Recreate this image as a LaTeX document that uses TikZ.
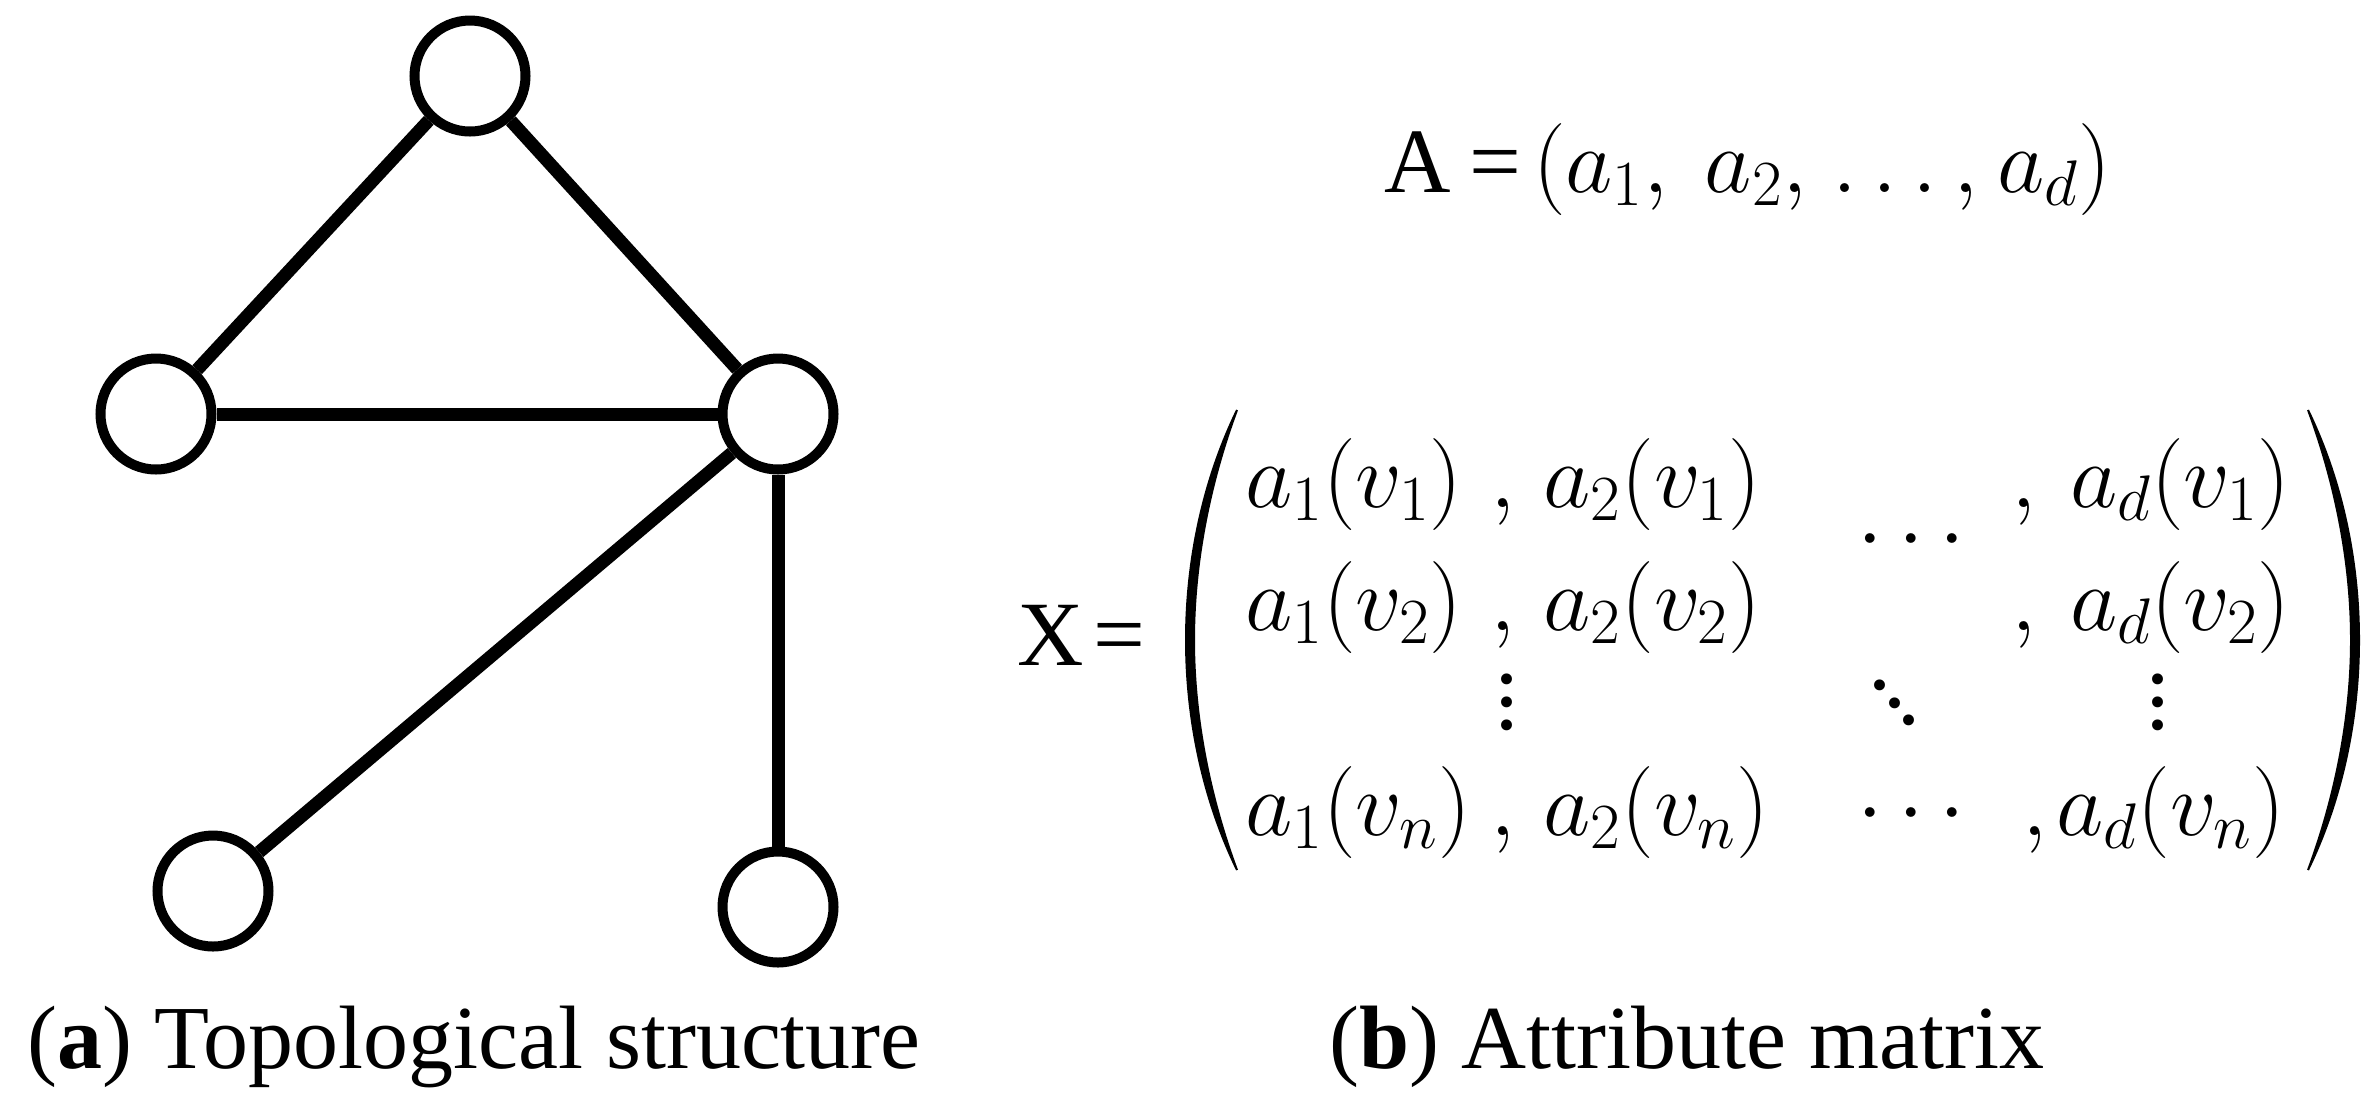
\documentclass[tikz,border=0pt]{standalone}
\usepackage{fix-cm}
\usepackage{fontspec}
\setmainfont{Liberation Serif}
\newcommand{\bigvdots}{\vbox{\baselineskip=0.25em\lineskiplimit=-\maxdimen\hbox{.}\hbox{.}\hbox{.}}}
\newcommand{\bigddots}{\hbox{\raise0.37em\hbox{.}\kern-0.09em\raise0.18em\hbox{.}\kern-0.09em\hbox{.}}}
\begin{document}
\begin{tikzpicture}[x=0.5pt,y=-0.5pt,
  vtx/.style={circle,draw=black,line width=5pt,minimum size=55.5pt,inner sep=0pt,fill=white},
  edg/.style={line width=6.5pt},
  capt/.style={anchor=base west,inner sep=0pt,font=\fontsize{45pt}{54pt}\selectfont},
  mth/.style={anchor=base west,inner sep=0pt,font=\fontsize{46pt}{55pt}\selectfont},
  dotsbox/.style={anchor=base,inner sep=0pt,font=\fontsize{46pt}{55pt}\selectfont},
  paren/.style={fill=black,draw=black,line width=1pt}]
\useasboundingbox (0,0) rectangle (2377,1105);
% graph
\node[vtx] (v1) at (470,76) {};
\node[vtx] (v2) at (156,414) {};
\node[vtx] (v3) at (778,414) {};
\node[vtx] (v4) at (213,891) {};
\node[vtx] (v5) at (778,907) {};
\draw[edg] (v1) -- (v2);
\draw[edg] (v1) -- (v3);
\draw[edg] (v2) -- (v3);
\draw[edg] (v3) -- (v4);
\draw[edg] (v3) -- (v5);
% captions
\node[capt] (capa) at (27,1068) {(\textbf{a}) Topological structure};
\node[capt] (capb) at (1329,1068) {(\textbf{b}) Attribute matrix};
% attribute set
\node[mth] (attr) at (1384,192) {A\hspace{0.2em}=\hspace{0.13em}$(a_1,\hspace{0.23em}a_2,\hspace{0.1em}\ldots,\hspace{0.04em}a_d)$};
% matrix
\node[mth] (xeq) at (1017,665) {X\hspace{0.1em}=};
\path[paren] (1237,410) .. controls (1203,480) and (1186,560) .. (1186,640)
  .. controls (1186,720) and (1203,800) .. (1237,870)
  .. controls (1211,800) and (1194,720) .. (1194,640)
  .. controls (1194,560) and (1211,480) .. (1237,410) -- cycle;
\path[paren] (2308,410) .. controls (2342,480) and (2359,560) .. (2359,640)
  .. controls (2359,720) and (2342,800) .. (2308,870)
  .. controls (2334,800) and (2351,720) .. (2351,640)
  .. controls (2351,560) and (2334,480) .. (2308,410) -- cycle;
\node[mth] (c11) at (1245,507) {$a_1(v_1)$};
\node[mth] (c12) at (1490,507) {$,\hspace{0.14em}a_2(v_1)$};
\node[mth] (c13) at (1857,561) {$\cdots$};
\node[mth] (c14) at (2011,507) {$,\hspace{0.2em}a_d(v_1)$};
\node[mth] (c21) at (1245,630) {$a_1(v_2)$};
\node[mth] (c22) at (1490,630) {$,\hspace{0.14em}a_2(v_2)$};
\node[mth] (c24) at (2011,630) {$,\hspace{0.2em}a_d(v_2)$};
\node[dotsbox] (c31) at (1507,729) {\bigvdots};
\node[mth] (c33) at (1868,724) {\bigddots};
\node[dotsbox] (c34) at (2158,729) {\bigvdots};
\node[mth] (cn1) at (1245,835) {$a_1(v_n)$};
\node[mth] (cn2) at (1490,835) {$,\hspace{0.14em}a_2(v_n)$};
\node[mth] (cn3) at (1857,835) {$\cdots$};
\node[mth] (cn4) at (2022,835) {${,}\hspace{0.1em}a_d(v_n)$};
\end{tikzpicture}
\end{document}
